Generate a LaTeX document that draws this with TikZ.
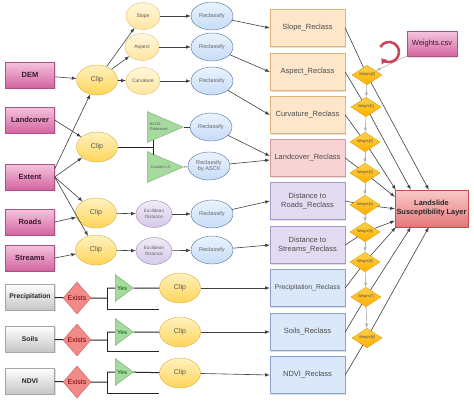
\documentclass[tikz,border=0pt]{standalone}
\usepackage{fontspec}
\setmainfont{Liberation Sans}
\usetikzlibrary{shapes.geometric,shadows,arrows.meta}

\definecolor{srctop}{HTML}{F4C4DE}
\definecolor{srcbot}{HTML}{D4649F}
\definecolor{srcline}{HTML}{B05088}
\definecolor{srctext}{HTML}{3A1A2E}
\definecolor{cliptop}{HTML}{FFF2BE}
\definecolor{clipbot}{HTML}{FFD55A}
\definecolor{clipline}{HTML}{D6AE40}
\definecolor{dertop}{HTML}{FFF7DC}
\definecolor{derbot}{HTML}{FFE6A0}
\definecolor{derline}{HTML}{E0C070}
\definecolor{recltop}{HTML}{EAF3FD}
\definecolor{reclbot}{HTML}{C6DCF6}
\definecolor{reclline}{HTML}{4F6F9F}
\definecolor{disttop}{HTML}{F0EAF7}
\definecolor{distbot}{HTML}{D6CAEA}
\definecolor{distline}{HTML}{9A88B8}
\definecolor{choicefill}{HTML}{A6DA9E}
\definecolor{choiceline}{HTML}{74B46C}
\definecolor{orfill}{HTML}{FDE6CA}
\definecolor{orline}{HTML}{E6B478}
\definecolor{pkfill}{HTML}{F8D3D3}
\definecolor{pkline}{HTML}{D69A9A}
\definecolor{pufill}{HTML}{E3DBF1}
\definecolor{puline}{HTML}{A69ACA}
\definecolor{blfill}{HTML}{DAE8FA}
\definecolor{blline}{HTML}{88A2CC}
\definecolor{wttop}{HTML}{FFD24A}
\definecolor{wtbot}{HTML}{FFAE00}
\definecolor{wtline}{HTML}{E09C00}
\definecolor{testfill}{HTML}{F28A8A}
\definecolor{testline}{HTML}{D05C5C}
\definecolor{lstop}{HTML}{FACACA}
\definecolor{lsbot}{HTML}{E47878}
\definecolor{lsline}{HTML}{C44C4C}
\definecolor{loopred}{HTML}{C8465A}

\begin{document}
\begin{tikzpicture}[x=1pt,y=-1pt,>=latex,
  box/.style={rectangle,inner sep=1pt,drop shadow={opacity=0.25,shadow xshift=1pt,shadow yshift=-1pt}},
  src/.style={box,draw=srcline,top color=srctop,bottom color=srcbot,minimum width=49pt,minimum height=26pt,
    font=\fontsize{7.5}{9}\selectfont\bfseries,text=srctext},
  aux/.style={box,draw=gray!70,top color=white,bottom color=gray!45,minimum width=49pt,minimum height=26pt,
    font=\fontsize{6.8}{8}\selectfont\bfseries,text=black!85},
  tool/.style={ellipse,draw=clipline,top color=cliptop,bottom color=clipbot,minimum width=41pt,minimum height=30pt,
    inner sep=0pt,font=\fontsize{7}{8}\selectfont,text=black!65},
  deriv/.style={ellipse,draw=derline,top color=dertop,bottom color=derbot,minimum width=34pt,minimum height=27pt,
    inner sep=0pt,font=\fontsize{5}{6}\selectfont,text=black!65},
  recl/.style={ellipse,draw=reclline,top color=recltop,bottom color=reclbot,minimum width=42pt,minimum height=28pt,
    inner sep=0pt,align=center,font=\fontsize{5.6}{6.6}\selectfont,text=black!60},
  dist/.style={ellipse,draw=distline,top color=disttop,bottom color=distbot,minimum width=36pt,minimum height=27pt,
    inner sep=0pt,align=center,font=\fontsize{4.6}{5.8}\selectfont,text=black!60},
  choice/.style={isosceles triangle,isosceles triangle stretches,draw=choiceline,fill=choicefill,anchor=lower side,
    minimum width=31pt,minimum height=36pt,inner sep=0pt,align=left,font=\fontsize{4}{5}\selectfont,text=black!65},
  yes/.style={isosceles triangle,isosceles triangle stretches,draw=choiceline,fill=choicefill,anchor=lower side,
    minimum width=27pt,minimum height=18pt,inner sep=0pt,font=\fontsize{6}{7}\selectfont,text=green!35!black},
  rbox/.style 2 args={box,draw=#2,fill=#1,minimum width=75pt,minimum height=37pt,align=center,
    font=\fontsize{7.5}{9}\selectfont,text=black!70},
  wt/.style={diamond,draw=wtline,top color=wttop,bottom color=wtbot,minimum width=30pt,minimum height=16pt,
    inner sep=0pt,font=\fontsize{3.8}{4}\selectfont,text=black!70},
  test/.style={diamond,draw=testline,fill=testfill,minimum width=28pt,minimum height=32pt,inner sep=0pt,
    font=\fontsize{7}{8}\selectfont,text=red!45!black},
  link/.style={draw=black!75,line width=0.6pt,-latex},
  wire/.style={draw=black!75,line width=0.6pt},
  bar/.style={draw=black!85,line width=1pt},
  chain/.style={draw=gray!60,line width=0.6pt,-latex}]
  \useasboundingbox (0,0) rectangle (474,402);

  % input layers
  \node[src] (dem) at (30,75) {DEM};
  \node[src] (landcover) at (30,120) {Landcover};
  \node[src] (extent) at (30,177) {Extent};
  \node[src] (roads) at (30,222) {Roads};
  \node[src] (streams) at (30,258) {Streams};
  \node[aux] (precip) at (30,297) {Precipitation};
  \node[aux] (soils) at (30,339) {Soils};
  \node[aux] (ndvi) at (30,381) {NDVI};

  % clipping and derived layers
  \node[tool] (clipa) at (97,80) {Clip};
  \node[tool] (clipb) at (97,147) {Clip};
  \node[tool] (clipc) at (96,213) {Clip};
  \node[tool] (clipd) at (96,250) {Clip};
  \node[deriv] (slope) at (143,16) {Slope};
  \node[deriv] (aspect) at (142,47) {Aspect};
  \node[deriv] (curv) at (143,81) {Curvature};
  \node[choice] (nlcd) at (147,127) {NLCD\\Globcover};
  \node[choice] (custom) at (147,167) {Custom LC};
  \node[dist] (euca) at (154,214) {Euclidean\\Distance};
  \node[dist] (eucb) at (154,251) {Euclidean\\Distance};

  \node[recl] (reca) at (212,16) {Reclassify};
  \node[recl] (recb) at (212,47) {Reclassify};
  \node[recl] (recc) at (212,81) {Reclassify};
  \node[recl] (recd) at (211,127) {Reclassify};
  \node[recl] (rece) at (209,166) {Reclassify\\by ASCII};
  \node[recl] (recf) at (212,214) {Reclassify};
  \node[recl] (recg) at (212,250) {Reclassify};

  % reclassed layers
  \node[rbox={orfill}{orline}] (rslope) at (307.5,28) {Slope\_Reclass};
  \node[rbox={orfill}{orline}] (raspect) at (307.5,72) {Aspect\_Reclass};
  \node[rbox={orfill}{orline}] (rcurv) at (307.5,115) {Curvature\_Reclass};
  \node[rbox={pkfill}{pkline}] (rland) at (307.5,158) {Landcover\_Reclass};
  \node[rbox={pufill}{puline}] (rroads) at (307.5,201) {Distance to\\Roads\_Reclass};
  \node[rbox={pufill}{puline}] (rstreams) at (307.5,245) {Distance to\\Streams\_Reclass};
  \node[rbox={blfill}{blline},font=\fontsize{6.8}{8}\selectfont] (rprecip) at (307.5,288) {Precipitation\_Reclass};
  \node[rbox={blfill}{blline}] (rsoils) at (307.5,332) {Soils\_Reclass};
  \node[rbox={blfill}{blline}] (rndvi) at (307.5,375) {NDVI\_Reclass};

  % optional layers
  \node[test] (pex) at (77,298) {Exists};
  \node[test] (sex) at (77,340) {Exists};
  \node[test] (nex) at (77,382) {Exists};
  \node[yes] (pyes) at (115,288) {Yes};
  \node[yes] (syes) at (115,332) {Yes};
  \node[yes] (nyes) at (115,372) {Yes};
  \node[tool] (clipe) at (180,288) {Clip};
  \node[tool] (clipf) at (180,332) {Clip};
  \node[tool] (clipg) at (180,373) {Clip};

  % weights and result
  \node[wt] (w0) at (367,75) {Weight[0]};
  \node[wt] (w1) at (366,107) {Weight[1]};
  \node[wt] (w2) at (365,142) {Weight[2]};
  \node[wt] (w3) at (365,173) {Weight[3]};
  \node[wt] (w4) at (365,205) {Weight[4]};
  \node[wt] (w5) at (365,232) {Weight[5]};
  \node[wt] (w6) at (365,262) {Weight[6]};
  \node[wt] (w7) at (366,297) {Weight[7]};
  \node[wt] (w8) at (367,338) {Weight[8]};
  \node[src,font=\fontsize{7.5}{9}\selectfont,minimum width=50pt,minimum height=25pt] (csv) at (432,44) {Weights.csv};
  \node[box,draw=lsline,top color=lstop,bottom color=lsbot,minimum width=73pt,minimum height=37pt,align=center,
    font=\fontsize{7.4}{9}\selectfont\bfseries,text=black!85] (ls) at (431.5,208.5) {Landslide\\Susceptibility Layer};

  % inputs to clip
  \draw[link] (dem) -- (clipa);
  \draw[link] ([yshift=-5pt]extent.north east) -- (clipa);
  \draw[link] (landcover.east) -- (clipb);
  \draw[link] (extent.east) -- (clipb);
  \draw[link] (extent.east) -- (clipc);
  \draw[link] (extent.east) -- (clipd);
  \draw[link] (roads.east) -- (clipc);
  \draw[link] (streams.east) -- (clipd);

  \draw[link] (clipa) -- (slope);
  \draw[link] (clipa) -- (aspect);
  \draw[link] (clipa) -- (curv);
  \draw[link] (slope) -- (reca);
  \draw[link] (aspect) -- (recb);
  \draw[link] (curv) -- (recc);
  \draw[link] (reca) -- (rslope.west);
  \draw[link] (recb) -- (raspect.west);
  \draw[link] (recc) -- (rcurv.west);

  \coordinate (lcj) at (153,147);
  \coordinate (lcjt) at (153,140);
  \coordinate (lcjb) at (153,155);
  \draw[bar] (clipb) -- (lcj);
  \draw[bar] (lcjt) -- (lcjb);
  \draw[wire] (nlcd.apex) -- (recd);
  \draw[wire] (custom.apex) -- (rece);
  \draw[link] (recd) -- ([yshift=2pt]rland.west);
  \draw[link] (rece) -- ([yshift=-2pt]rland.west);

  \draw[link] (clipc) -- (euca);
  \draw[link] (clipd) -- (eucb);
  \draw[link] (euca) -- (recf);
  \draw[link] (eucb) -- (recg);
  \draw[link] (recf) -- (rroads.west);
  \draw[link] (recg) -- (rstreams.west);

  % exists? branches
  \coordinate (pj) at (107,298);
  \coordinate (pjt) at (107,288);
  \coordinate (pjb) at (107,309);
  \coordinate (pend) at (159,309);
  \draw[bar] (precip) -- (pex) -- (pj);
  \draw[bar] (pjt) -- (pjb) -- (pend);
  \draw[bar] (pjt) -- (pyes) -- (clipe);
  \draw[link] (clipe) -- (rprecip.west);

  \coordinate (sj) at (107,340);
  \coordinate (sjt) at (107,332);
  \coordinate (sjb) at (107,351);
  \coordinate (send) at (159,351);
  \draw[bar] (soils) -- (sex) -- (sj);
  \draw[bar] (sjt) -- (sjb) -- (send);
  \draw[bar] (sjt) -- (syes) -- (clipf);
  \draw[link] (clipf) -- (rsoils.west);

  \coordinate (nj) at (107,382);
  \coordinate (njt) at (107,372);
  \coordinate (njb) at (107,393);
  \coordinate (nend) at (159,393);
  \draw[bar] (ndvi) -- (nex) -- (nj);
  \draw[bar] (njt) -- (njb) -- (nend);
  \draw[bar] (njt) -- (nyes) -- (clipg);
  \draw[link] (clipg) -- (rndvi.west);

  % weighting
  \draw[wire] (rslope.east) -- (w0);
  \draw[wire] (raspect.east) -- (w1);
  \draw[wire] (rcurv.east) -- (w2);
  \draw[wire] (rland.east) -- (w3);
  \draw[wire] (rroads.east) -- (w4);
  \draw[wire] (rstreams.east) -- (w5);
  \draw[wire] (rprecip.east) -- (w6);
  \draw[wire] (rsoils.east) -- (w7);
  \draw[wire] (rndvi.east) -- (w8);

  \draw[link] (w0) -- ([xshift=34pt]ls.north west);
  \draw[link] (w1) -- ([xshift=16pt]ls.north west);
  \draw[link] (w2) -- ([xshift=1pt]ls.north west);
  \draw[link] (w3) -- ([yshift=-7pt]ls.north west);
  \draw[link] (w4) -- ([yshift=-19pt]ls.north west);
  \draw[link] (w5) -- ([yshift=-31pt]ls.north west);
  \draw[link] (w6) -- ([xshift=1pt]ls.south west);
  \draw[link] (w7) -- ([xshift=16pt]ls.south west);
  \draw[link] (w8) -- ([xshift=34pt]ls.south west);

  \draw[chain] (csv) -- (w0);
  \draw[chain] (w0) -- (w1);
  \draw[chain] (w1) -- (w2);
  \draw[chain] (w2) -- (w3);
  \draw[chain] (w3) -- (w4);
  \draw[chain] (w4) -- (w5);
  \draw[chain] (w5) -- (w6);
  \draw[chain] (w6) -- (w7);
  \draw[chain] (w7) -- (w8);

  % loop icon
  \draw[loopred,line width=2.6pt,-{Triangle[length=5pt,width=7pt]}] (389,52) ++(150:10pt) arc[start angle=150,end angle=-140,radius=10pt];
\end{tikzpicture}
\end{document}
